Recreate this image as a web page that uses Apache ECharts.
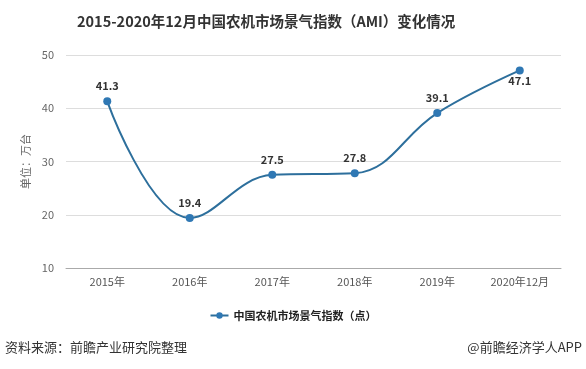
<!DOCTYPE html>
<html><head><meta charset="utf-8">
<script src="https://cdn.jsdelivr.net/npm/echarts@6/dist/echarts.min.js"></script>
<style>html,body{margin:0;padding:0;background:#fff}#c{width:586px;height:369px}</style>
</head><body><div id="c"></div>
<script>
const categories = ['2015年','2016年','2017年','2018年','2019年','2020年12月'];
const values = [41.3, 19.4, 27.5, 27.8, 39.1, 47.1];
const seriesName = '中国农机市场景气指数（点）';
const titleText = '2015-2020年12月中国农机市场景气指数（AMI）变化情况';
const yName = '单位：万台';
const sourceText = '资料来源：前瞻产业研究院整理';
const creditText = '@前瞻经济学人APP';

const font = '"Noto Sans CJK SC", "Noto Sans", sans-serif';
const chart = echarts.init(document.getElementById('c'));
chart.setOption({
  animation: false,
  textStyle: {fontFamily: font},
  title: {text: titleText, left: 72, top: 9,
    textStyle: {fontSize: 14.5, fontWeight: 'bold', color: '#333', fontFamily: font}},
  legend: {data: [seriesName], bottom: 43, left: 'center', itemWidth: 18, itemHeight: 8,
    textStyle: {fontSize: 11, color: '#222', fontWeight: 'bold', fontFamily: font}},
  grid: {left: 66, right: 25, top: 55, bottom: 101},
  xAxis: {type: 'category', data: categories, boundaryGap: true,
    axisLine: {lineStyle: {color: '#aaa'}},
    axisTick: {alignWithLabel: true, length: 4, lineStyle: {color: '#aaa'}},
    axisLabel: {color: '#555', fontSize: 11, margin: 8}},
  yAxis: {type: 'value', min: 10, max: 50, interval: 10,
    name: yName, nameLocation: 'middle', nameGap: 30, nameRotate: 90,
    nameTextStyle: {color: '#666', fontSize: 11},
    axisLine: {show: false}, axisTick: {show: false},
    axisLabel: {color: '#666', fontSize: 11, margin: 12},
    splitLine: {lineStyle: {color: '#ddd'}}},
  series: [{
    name: seriesName, type: 'line', data: values, smooth: 0.4,
    symbol: 'circle', symbolSize: 8,
    lineStyle: {color: '#2d6f9c', width: 2},
    itemStyle: {color: '#2f78b4'},
    label: {show: true, position: 'top', color: '#333', fontWeight: 'bold', fontSize: 11,
      distance: 6},
    labelLayout: function(p){ return p.dataIndex === 5 ? {dy: 26} : {}; }
  }],
  graphic: [
    {type: 'text', left: 5, top: 341, style: {text: sourceText, fontSize: 13, fill: '#333', fontFamily: font}},
    {type: 'text', right: 4, top: 341, style: {text: creditText, fontSize: 13, fill: '#333', fontFamily: font}}
  ]
});
</script></body></html>
